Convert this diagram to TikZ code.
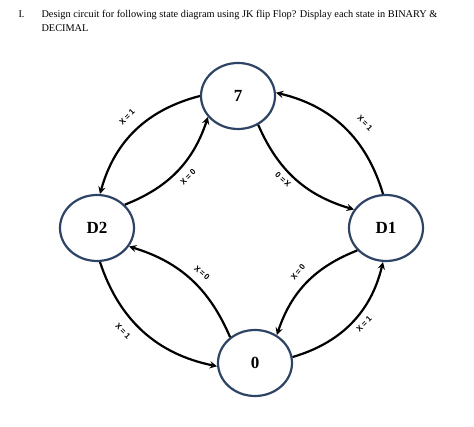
\documentclass[tikz,border=0pt]{standalone}
\usepackage{fontspec}
\setmainfont{Liberation Serif}
\newfontfamily\labelfont{Liberation Sans}
\usepackage{tikz}
\usetikzlibrary{arrows,shapes,positioning}
\definecolor{stblue}{RGB}{46,68,100}
\tikzstyle{arrow} = [line width=2.2pt,->,>=stealth,color=black]
\tikzstyle{state} = [ellipse, draw=stblue, line width=2.2pt, minimum width=74pt, minimum height=66pt, font=\fontsize{17}{17}\selectfont\bfseries]
\tikzstyle{xlabel} = [font=\labelfont\fontsize{8}{8}\selectfont\bfseries, inner sep=0pt]
\newcommand{\xval}[1]{X\kern1.6pt=\kern1.6pt#1}

\begin{document}
\begin{tikzpicture}[x=1pt, y=1pt]
    \useasboundingbox (0,0) rectangle (474,427);

    % Question text
    \node[anchor=base west, font=\fontsize{10.3}{14}\selectfont] (qnum) at (15,409) {I.};
    \node[anchor=base west, font=\fontsize{10.3}{14}\selectfont] (qline1) at (38,409) {Design circuit for following state diagram using JK flip Flop? Display each state in BINARY \&};
    \node[anchor=base west, font=\fontsize{10.3}{14}\selectfont] (qline2) at (38,395) {DECIMAL};

    % States
    \node[state] (s7) at (238,331) {7};
    \node[state] (sD2) at (97,199) {D2};
    \node[state] (sD1) at (386,199) {D1};
    \node[state] (s0) at (255,64) {0};

    % Transitions
    \draw[arrow] (s7.180) to[bend right=30] (sD2.85);
    \draw[arrow] (sD2.40) to[bend right=25] (s7.215);
    \draw[arrow] (s7.305) to[bend right=25] (sD1.150);
    \draw[arrow] (sD1.95) to[bend right=30] (s7.5);
    \draw[arrow] (s0.134) to[bend right=25] (sD2.330);
    \draw[arrow] (sD2.275) to[bend right=30] (s0.185);
    \draw[arrow] (sD1.218) to[bend right=25] (s0.52);
    \draw[arrow] (s0.9) to[bend right=30] (sD1.265);

    % Transition labels
    \node[xlabel, rotate=45] (l7D2) at (127,310) {\xval{1}};
    \node[xlabel, rotate=45] (lD27) at (188,250) {\xval{0}};
    \node[xlabel, rotate=137] (l7D1) at (283,247) {\xval{0}};
    \node[xlabel, rotate=-45] (lD17) at (365,304) {\xval{1}};
    \node[xlabel, rotate=-42] (l0D2) at (202,154) {\xval{0}};
    \node[xlabel, rotate=-45] (lD20) at (123,96) {\xval{1}};
    \node[xlabel, rotate=51] (lD10) at (298,155) {\xval{0}};
    \node[xlabel, rotate=45] (l0D1) at (364,103) {\xval{1}};
\end{tikzpicture}
\end{document}
